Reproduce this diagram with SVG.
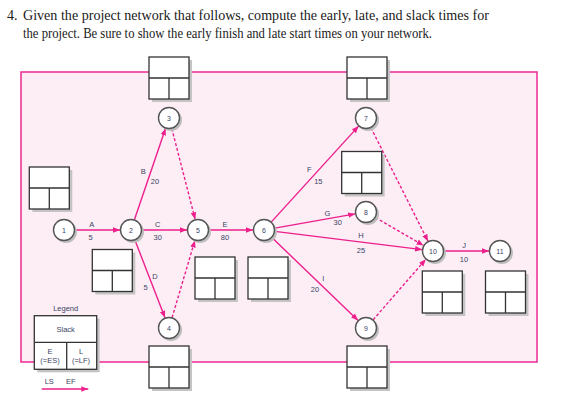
<svg xmlns="http://www.w3.org/2000/svg" xmlns:xlink="http://www.w3.org/1999/xlink" width="577" height="412" viewBox="0 0 577 412">
<style>
.title{font-family:"Liberation Serif","Times New Roman",serif;font-size:14px;fill:#1a1a1a}
.num{font-family:"Liberation Sans",Arial,sans-serif;font-size:7px;fill:#3a4466;text-anchor:middle}
.lbl{font-family:"Liberation Sans",Arial,sans-serif;font-size:7.5px;fill:#3a4466;text-anchor:middle}
.circ{fill:#fff;stroke:#555;stroke-width:1.4}
.csh{fill:#bdbdbd}
.bx{fill:#fff;stroke:#333;stroke-width:1.3}
.bsh{fill:#c4c4c4}
.ln{fill:none;stroke:#333;stroke-width:1.3}
.e{fill:none;stroke:#ec1f8c;stroke-width:1.4;marker-end:url(#ah)}
.d{stroke-dasharray:3,2}
</style>
<defs>
<marker id="ah" viewBox="0 0 10 10" refX="10" refY="5" markerWidth="7" markerHeight="7" markerUnits="userSpaceOnUse" orient="auto">
<path d="M0,1 L10,5 L0,9 Z" fill="#ec1f8c"/>
</marker>
<g id="box">
<rect class="bsh" x="3" y="3" width="40" height="42"/>
<rect class="bx" x="0" y="0" width="40" height="42"/>
<path class="ln" d="M0,21 H40 M20,21 V42"/>
</g>
</defs>
<text class="title" x="7" y="20">4.</text>
<text class="title" x="23" y="20" textLength="466" lengthAdjust="spacingAndGlyphs">Given the project network that follows, compute the early, late, and slack times for</text>
<text class="title" x="23" y="38" textLength="409" lengthAdjust="spacingAndGlyphs">the project. Be sure to show the early finish and late start times on your network.</text>
<rect x="21" y="72" width="516" height="290" fill="#fdeef5" stroke="#ec2a92" stroke-width="1.5"/>
<g id="connectors">
<line class="e" x1="75" y1="230" x2="120" y2="230"/>
<line class="e" x1="134.5" y1="219.6" x2="165.5" y2="128.4"/>
<line class="e d" x1="171.8" y1="128.6" x2="195.2" y2="219.4"/>
<line class="e" x1="142" y1="230" x2="187" y2="230"/>
<line class="e" x1="135" y1="240.3" x2="165" y2="317.7"/>
<line class="e d" x1="172.1" y1="317.5" x2="194.9" y2="240.5"/>
<line class="e" x1="209" y1="230" x2="253" y2="230"/>
<line class="e" x1="271.4" y1="221.9" x2="358.6" y2="126.1"/>
<line class="e" x1="274.8" y1="228.1" x2="355.2" y2="213.9"/>
<line class="e" x1="274.9" y1="231.4" x2="422.1" y2="249.6"/>
<line class="e" x1="271.9" y1="237.6" x2="358.1" y2="320.4"/>
<line class="e d" x1="371" y1="127.8" x2="428" y2="241.2"/>
<line class="e d" x1="375.5" y1="217.5" x2="423.5" y2="245.5"/>
<line class="e d" x1="373.2" y1="319.7" x2="425.8" y2="259.3"/>
<line class="e" x1="444" y1="251" x2="489" y2="251"/>
<text class="lbl" x="91.7" y="226.5">A</text><text class="lbl" x="90.7" y="239.8">5</text>
<text class="lbl" x="157.7" y="226.5">C</text><text class="lbl" x="157.7" y="239.8">30</text>
<text class="lbl" x="225" y="226.5">E</text><text class="lbl" x="225" y="239.5">80</text>
<text class="lbl" x="143.3" y="174.2">B</text><text class="lbl" x="155" y="184.2">20</text>
<text class="lbl" x="155" y="279.2">D</text><text class="lbl" x="145.7" y="289.8">5</text>
<text class="lbl" x="309.3" y="171.8">F</text><text class="lbl" x="318.3" y="183.5">15</text>
<text class="lbl" x="327.3" y="215.8">G</text><text class="lbl" x="337.7" y="224.8">30</text>
<text class="lbl" x="361" y="237.5">H</text><text class="lbl" x="361" y="252.5">25</text>
<text class="lbl" x="323.3" y="280.8">I</text><text class="lbl" x="315" y="291.8">20</text>
<text class="lbl" x="464" y="247.5">J</text><text class="lbl" x="464" y="261.5">10</text>
</g>
<g id="node1"><use xlink:href="#box" x="29.3" y="167"/><circle class="csh" cx="66" cy="232" r="11"/><circle class="circ" cx="64" cy="230" r="10.5"/><text class="num" x="64" y="232.5">1</text></g>
<g id="node2"><use xlink:href="#box" x="92.3" y="249.5"/><circle class="csh" cx="133" cy="232" r="11"/><circle class="circ" cx="131" cy="230" r="10.5"/><text class="num" x="131" y="232.5">2</text></g>
<g id="node3"><use xlink:href="#box" x="149" y="57"/><circle class="csh" cx="171" cy="120" r="11"/><circle class="circ" cx="169" cy="118" r="10.5"/><text class="num" x="169" y="120.5">3</text></g>
<g id="node4"><use xlink:href="#box" x="149" y="346"/><circle class="csh" cx="171" cy="330" r="11"/><circle class="circ" cx="169" cy="328" r="10.5"/><text class="num" x="169" y="330.5">4</text></g>
<g id="node5"><use xlink:href="#box" x="195" y="257"/><circle class="csh" cx="200" cy="232" r="11"/><circle class="circ" cx="198" cy="230" r="10.5"/><text class="num" x="198" y="232.5">5</text></g>
<g id="node6"><use xlink:href="#box" x="248" y="257"/><circle class="csh" cx="266" cy="232" r="11"/><circle class="circ" cx="264" cy="230" r="10.5"/><text class="num" x="264" y="232.5">6</text></g>
<g id="node7"><use xlink:href="#box" x="347" y="57"/><circle class="csh" cx="368" cy="120" r="11"/><circle class="circ" cx="366" cy="118" r="10.5"/><text class="num" x="366" y="120.5">7</text></g>
<g id="node8"><use xlink:href="#box" x="341.7" y="151.5"/><circle class="csh" cx="368" cy="214" r="11"/><circle class="circ" cx="366" cy="212" r="10.5"/><text class="num" x="366" y="214.5">8</text></g>
<g id="node9"><use xlink:href="#box" x="347" y="346"/><circle class="csh" cx="368" cy="330" r="11"/><circle class="circ" cx="366" cy="328" r="10.5"/><text class="num" x="366" y="330.5">9</text></g>
<g id="node10"><use xlink:href="#box" x="422.3" y="271"/><circle class="csh" cx="435" cy="253" r="11"/><circle class="circ" cx="433" cy="251" r="10.5"/><text class="num" x="433" y="253.5">10</text></g>
<g id="node11"><use xlink:href="#box" x="485.5" y="271"/><circle class="csh" cx="502" cy="253" r="11"/><circle class="circ" cx="500" cy="251" r="10.5"/><text class="num" x="500" y="253.5">11</text></g>
<g id="legend">
<text class="lbl" x="65.7" y="310.8">Legend</text>
<rect class="bsh" x="37.3" y="318.7" width="62.4" height="53.6"/>
<rect class="bx" x="34.3" y="315.7" width="62.4" height="53.6"/>
<path class="ln" d="M34.3,342.3 H96.7 M66.7,342.3 V369.3"/>
<text class="lbl" x="65.7" y="331.5">Slack</text>
<text class="lbl" x="50" y="354.2">E</text><text class="lbl" x="50" y="363.2">(=ES)</text>
<text class="lbl" x="81" y="354.2">L</text><text class="lbl" x="81" y="363.2">(=LF)</text>
<text class="lbl" x="49.3" y="384.2">LS</text><text class="lbl" x="70.7" y="384.2">EF</text>
<line class="e" x1="41.7" y1="389" x2="88.3" y2="389"/>
</g>
</svg>
